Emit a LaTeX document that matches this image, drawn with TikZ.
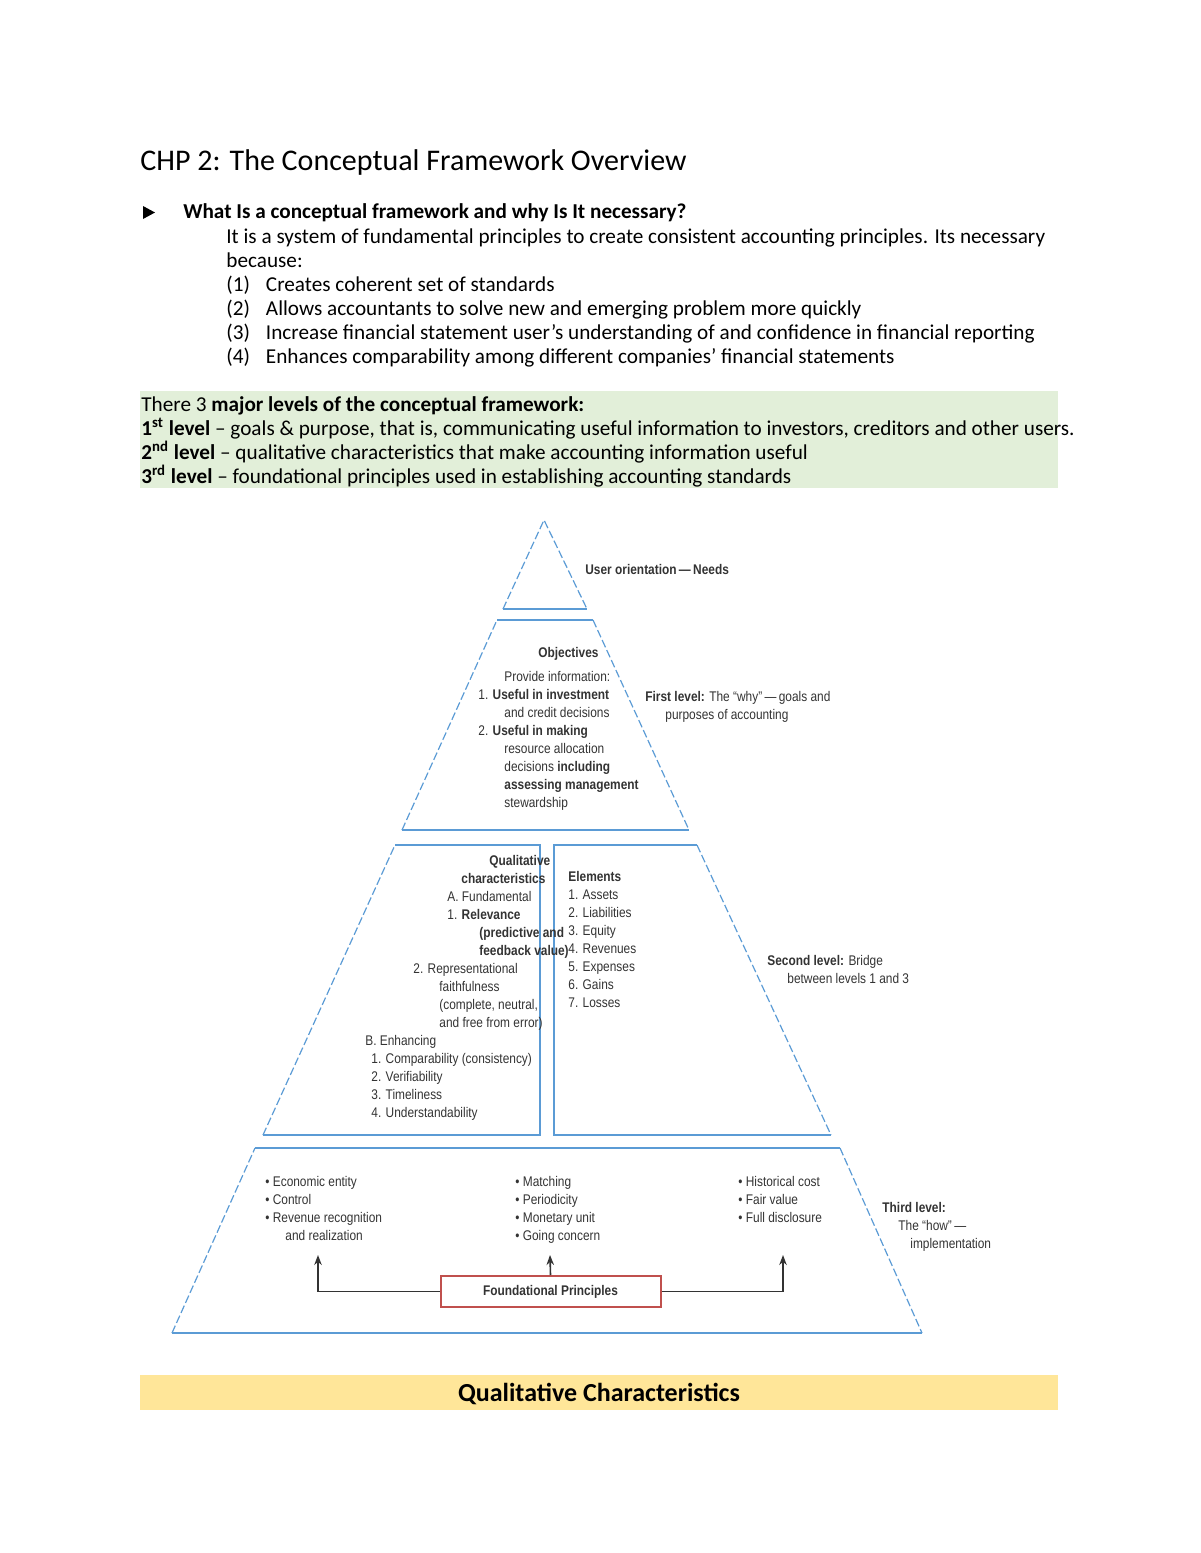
\documentclass[tikz,border=0pt]{standalone}
\usepackage{fontspec}
\setmainfont{Carlito}
\newfontfamily\pyr{Liberation Sans}[FakeStretch=0.85]
\usetikzlibrary{arrows.meta}
\definecolor{pblue}{HTML}{5B9BD5}
\definecolor{lgreen}{HTML}{E2EFD9}
\definecolor{lyellow}{HTML}{FFE699}
\definecolor{pred}{HTML}{C0504D}
\definecolor{ptext}{HTML}{333333}
\tikzset{
 body/.style={anchor=base west,inner sep=0pt,font=\fontsize{10.6}{12}\selectfont},
 ptx/.style={anchor=north west,inner sep=0pt,align=left,text=ptext,font=\pyr\fontsize{7}{9}\selectfont},
 side/.style={pblue,dashed,dash pattern=on 4pt off 1.5pt,line width=0.6pt},
 base/.style={pblue,line width=0.9pt},
 arr/.style={-{Stealth[length=5pt]},line width=0.8pt,ptext}
}
\begin{document}
\begin{tikzpicture}[x=0.5pt,y=-0.5pt]
\useasboundingbox (0,0) rectangle (1200,1553);
\node[body,font=\fontsize{15}{18}\selectfont] (title) at (140,170) {CHP 2: The Conceptual Framework Overview};
\fill (143,206) -- (155,212.5) -- (143,219) -- cycle;
\node[body,font=\bfseries\fontsize{10.6}{12}\selectfont] (q) at (183,218) {What Is a conceptual framework and why Is It necessary?};
\node[body] (p1) at (226,243) {It is a system of fundamental principles to create consistent accounting principles. Its necessary};
\node[body] (p2) at (226,267) {because:};
\node[body] (p3) at (226,291) {(1)\hspace{8pt}Creates coherent set of standards};
\node[body] (p4) at (226,315) {(2)\hspace{8pt}Allows accountants to solve new and emerging problem more quickly};
\node[body] (p5) at (226,339) {(3)\hspace{8pt}Increase financial statement user’s understanding of and confidence in financial reporting};
\node[body] (p6) at (226,363) {(4)\hspace{8pt}Enhances comparability among different companies’ financial statements};
\fill[lgreen] (140,391) rectangle (1058,488);
\node[body] (g1) at (141,411) {There 3 \textbf{major levels of the conceptual framework:}};
\node[body] (g2) at (141,435) {\textbf{1\textsuperscript{st} level} – goals \& purpose, that is, communicating useful information to investors, creditors and other users.};
\node[body] (g3) at (141,459) {\textbf{2\textsuperscript{nd} level} – qualitative characteristics that make accounting information useful};
\node[body] (g4) at (141,483) {\textbf{3\textsuperscript{rd} level} – foundational principles used in establishing accounting standards};
% pyramid
\draw[side] (503,609) -- (544,520) -- (587,609);
\draw[base] (503,609) -- (587,609);
\draw[side] (402,830) -- (497,620); \draw[side] (593,620) -- (689,830);
\draw[base] (497,620) -- (593,620); \draw[base] (402,830) -- (689,830);
\draw[side] (263,1135) -- (395,845);
\draw[base] (395,845) -- (540,845) -- (540,1135) -- (263,1135);
\draw[side] (697,845) -- (831,1135);
\draw[base] (697,845) -- (554,845) -- (554,1135) -- (831,1135);
\draw[side] (172,1333) -- (255,1148); \draw[side] (840,1148) -- (922,1333);
\draw[base] (255,1148) -- (840,1148); \draw[base] (172,1333) -- (922,1333);
\node[ptx,font=\pyr\bfseries\fontsize{7}{9}\selectfont] (uo) at (585,564) {User orientation\,—\,Needs};
\node[ptx] (obj) at (478,647) {\hspace{30pt}\textbf{Objectives}\\[3pt]\hspace{13pt}Provide information:\\
1. \textbf{Useful in investment}\\\hspace{13pt}and credit decisions\\
2. \textbf{Useful in making}\\\hspace{13pt}resource allocation\\\hspace{13pt}decisions \textbf{including}\\\hspace{13pt}\textbf{assessing management}\\\hspace{13pt}stewardship};
\node[ptx] (fl) at (645,691) {\textbf{First level:} The “why”\,—\,goals and\\\hspace{10pt}purposes of accounting};
\node[ptx] (qc) at (365,855) {\hspace{62pt}\textbf{Qualitative}\\\hspace{48pt}\textbf{characteristics}\\
\hspace{41pt}A. Fundamental\\\hspace{41pt}1. \textbf{Relevance}\\\hspace{57pt}\textbf{(predictive and}\\\hspace{57pt}\textbf{feedback value)}\\
\hspace{24pt}2. Representational\\\hspace{37pt}faithfulness\\\hspace{37pt}(complete, neutral,\\\hspace{37pt}and free from error)\\
B. Enhancing\\\hspace{3pt}1. Comparability (consistency)\\\hspace{3pt}2. Verifiability\\\hspace{3pt}3. Timeliness\\\hspace{3pt}4. Understandability};
\node[ptx] (el) at (568,871) {\textbf{Elements}\\1. Assets\\2. Liabilities\\3. Equity\\4. Revenues\\5. Expenses\\6. Gains\\7. Losses};
\node[ptx] (sl) at (767,955) {\textbf{Second level:} Bridge\\\hspace{10pt}between levels 1 and 3};
\node[ptx] (c1) at (265,1176) {• Economic entity\\• Control\\• Revenue recognition\\\hspace{10pt}and realization};
\node[ptx] (c2) at (515,1176) {• Matching\\• Periodicity\\• Monetary unit\\• Going concern};
\node[ptx] (c3) at (738,1176) {• Historical cost\\• Fair value\\• Full disclosure};
\node[ptx] (tl) at (882,1202) {\textbf{Third level:}\\\hspace{8pt}The “how”\,—\\\hspace{14pt}implementation};
\node[draw=pred,line width=1pt,minimum width=110pt,minimum height=15.5pt,inner sep=0pt,text=ptext,font=\pyr\bfseries\fontsize{7}{9}\selectfont] (fp) at (550.5,1291.5) {Foundational Principles};
\coordinate (a1) at (318,1255);
\coordinate (a2) at (550,1255);
\coordinate (a3) at (783,1255);
\draw[arr] (fp.west) -| (a1);
\draw[arr] (fp.north) -- (a2);
\draw[arr] (fp.east) -| (a3);
\fill[lyellow] (140,1375) rectangle (1058,1410);
\node[inner sep=0pt,font=\bfseries\fontsize{13}{15}\selectfont] (qch) at (599,1394) {Qualitative Characteristics};
\end{tikzpicture}
\end{document}
